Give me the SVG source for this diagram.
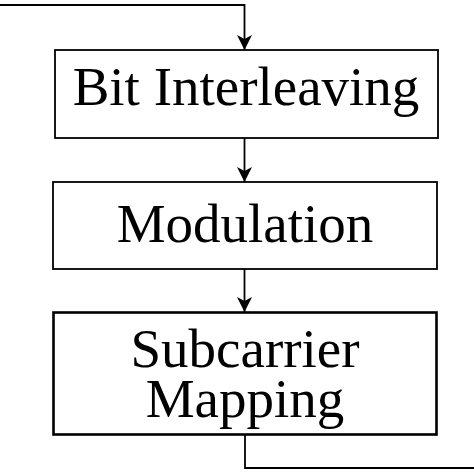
<svg xmlns="http://www.w3.org/2000/svg" width="474" height="474" viewBox="0 0 474 474">
<style>
.box{fill:#fff;stroke:#000;stroke-width:1.8}
.box3{fill:#fff;stroke:#000;stroke-width:2.6}
.lbl{font-family:"Liberation Serif","Times New Roman",serif;font-size:55px;fill:#000;text-anchor:middle}
.wire{fill:none;stroke:#000;stroke-width:1.8}
</style>
<defs>
<marker id="arr" markerUnits="userSpaceOnUse" markerWidth="16" markerHeight="16" refX="15" refY="8" orient="auto">
<path d="M0,0.5 L15,8 L0,15.5 L4,8 Z" fill="#000"/>
</marker>
</defs>
<rect width="474" height="474" fill="#fff"/>
<g id="connectors">
<path class="wire" d="M0,5 H244.5 V50" marker-end="url(#arr)"/>
<path class="wire" d="M244.5,138 V182" marker-end="url(#arr)"/>
<path class="wire" d="M244.5,269 V312" marker-end="url(#arr)"/>
<path class="wire" d="M245,435 V468 H474"/>
</g>
<g id="bit-interleaving">
<rect class="box" x="55" y="50" width="383" height="88"/>
<text class="lbl" x="246" y="105">Bit Interleaving</text>
</g>
<g id="modulation">
<rect class="box" x="53" y="182" width="384" height="87"/>
<text class="lbl" x="245" y="242">Modulation</text>
</g>
<g id="subcarrier-mapping">
<rect class="box3" x="53.5" y="312.5" width="383" height="122"/>
<text class="lbl" x="245" y="367"><tspan x="245" y="367">Subcarrier</tspan><tspan x="245" y="417">Mapping</tspan></text>
</g>
</svg>
